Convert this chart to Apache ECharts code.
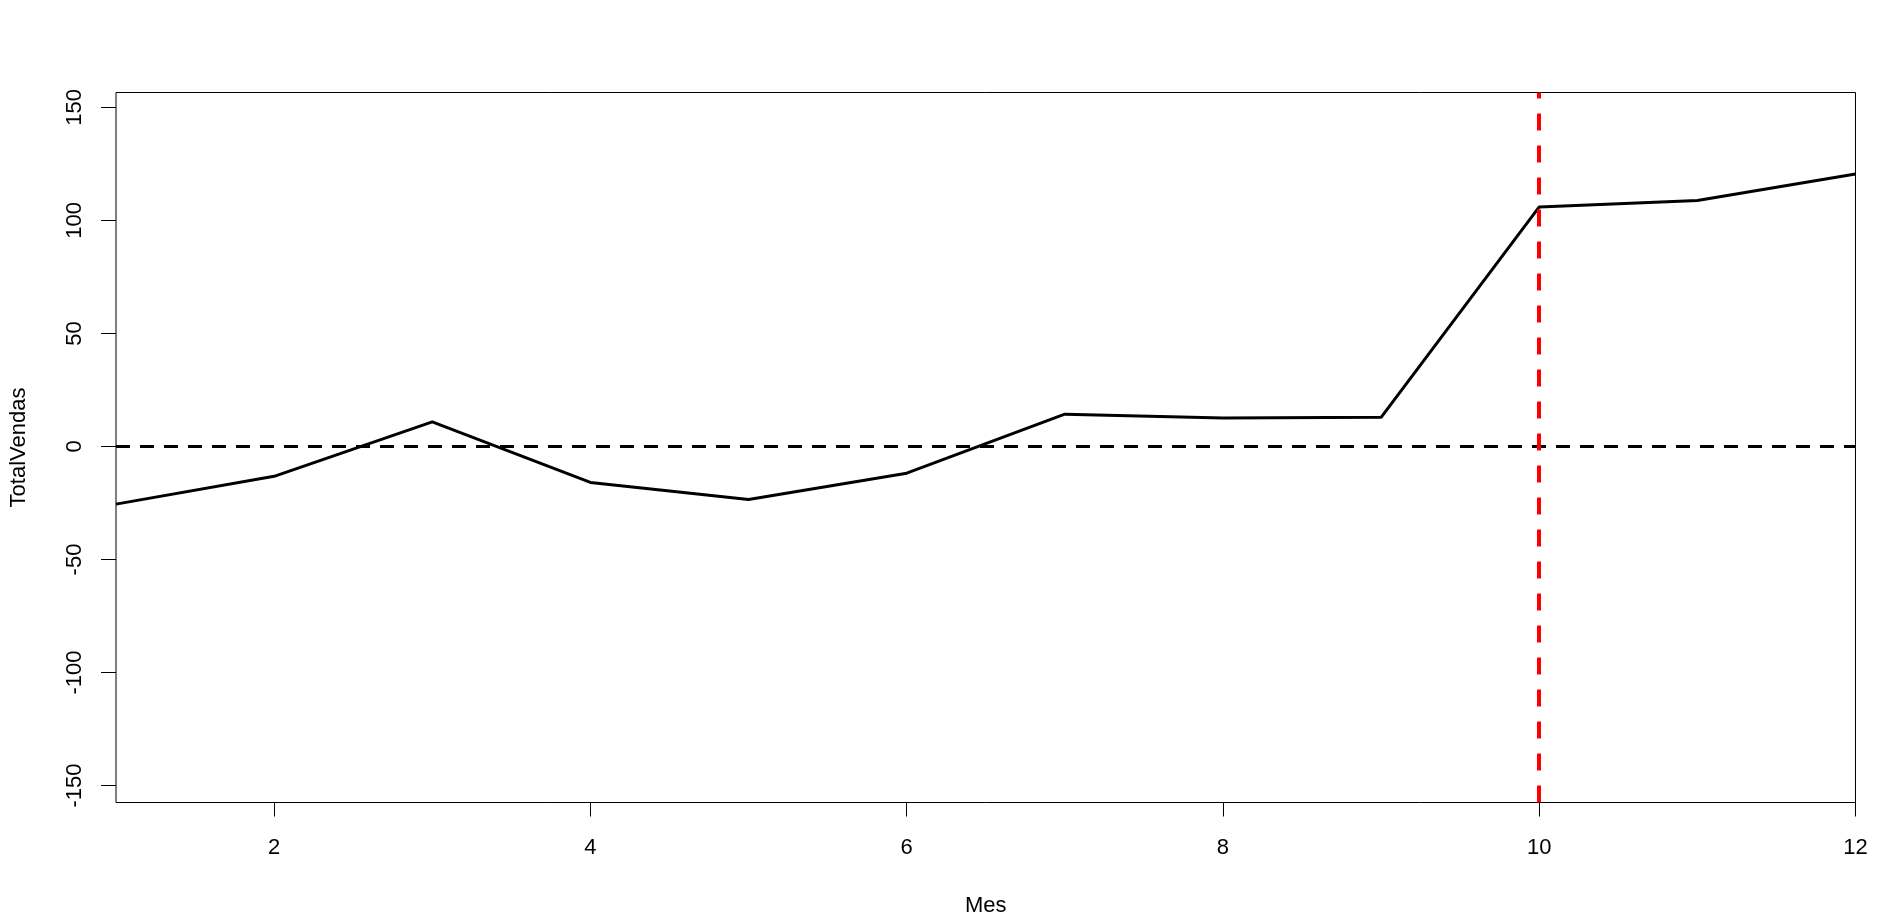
<!DOCTYPE html>
<html>
<head>
<meta charset="utf-8">
<script src="https://cdn.jsdelivr.net/npm/echarts@6/dist/echarts.min.js"></script>
<style>
html,body{margin:0;padding:0;background:#fff;}
#chart{width:1887px;height:922px;}
</style>
</head>
<body>
<div id="chart"></div>
<script>
const meses = [1, 2, 3, 4, 5, 6, 7, 8, 9, 10, 11, 12];
const totalVendas = [-25.5, -13.2, 10.9, -15.9, -23.5, -11.8, 14.3, 12.6, 12.9, 106.0, 108.8, 120.5];
const xTicks = [2, 4, 6, 8, 10, 12];
const yTicks = [-150, -100, -50, 0, 50, 100, 150];
const refZero = 0;
const refMes = 10;

const font = 'Liberation Sans, Arial, sans-serif';
const chart = echarts.init(document.getElementById('chart'), null, {renderer: 'canvas'});
chart.setOption({
  animation: false,
  backgroundColor: '#ffffff',
  grid: {left: 114.5, width: 1741, top: 92.5, height: 710, show: true, borderColor: '#000', borderWidth: 1, backgroundColor: 'transparent'},
  xAxis: {
    type: 'value', min: 1, max: 12,
    name: 'Mes', nameLocation: 'middle', nameGap: 92,
    nameTextStyle: {fontFamily: font, fontSize: 22, color: '#000'},
    axisLine: {show: false, onZero: false},
    splitLine: {show: false},
    axisTick: {show: true, length: 14, inside: false, customValues: xTicks, lineStyle: {color: '#000', width: 1}},
    axisLabel: {show: true, customValues: xTicks, margin: 34, fontFamily: font, fontSize: 22, color: '#000'}
  },
  yAxis: {
    type: 'value', min: -157.5, max: 156.6,
    name: 'TotalVendas', nameLocation: 'middle', nameRotate: 90, nameGap: 86,
    nameTextStyle: {fontFamily: font, fontSize: 22, color: '#000'},
    axisLine: {show: false, onZero: false},
    splitLine: {show: false},
    axisTick: {show: true, length: 15, inside: false, customValues: yTicks, lineStyle: {color: '#000', width: 1}},
    axisLabel: {show: true, customValues: yTicks, rotate: 90, margin: 41, fontFamily: font, fontSize: 22, color: '#000', align: 'center', verticalAlign: 'middle'}
  },
  series: [{
    type: 'line',
    data: meses.map((m, i) => [m, totalVendas[i]]),
    showSymbol: false,
    symbol: 'none',
    lineStyle: {color: '#000', width: 3},
    z: 3,
    markLine: {
      silent: true,
      symbol: ['none', 'none'],
      label: {show: false},
      data: [
        {yAxis: refZero, lineStyle: {color: '#000', width: 3, type: [14, 10]}},
        {xAxis: refMes, lineStyle: {color: '#ff0000', width: 4, type: [17, 15]}}
      ]
    }
  }]
});
</script>
</body>
</html>
